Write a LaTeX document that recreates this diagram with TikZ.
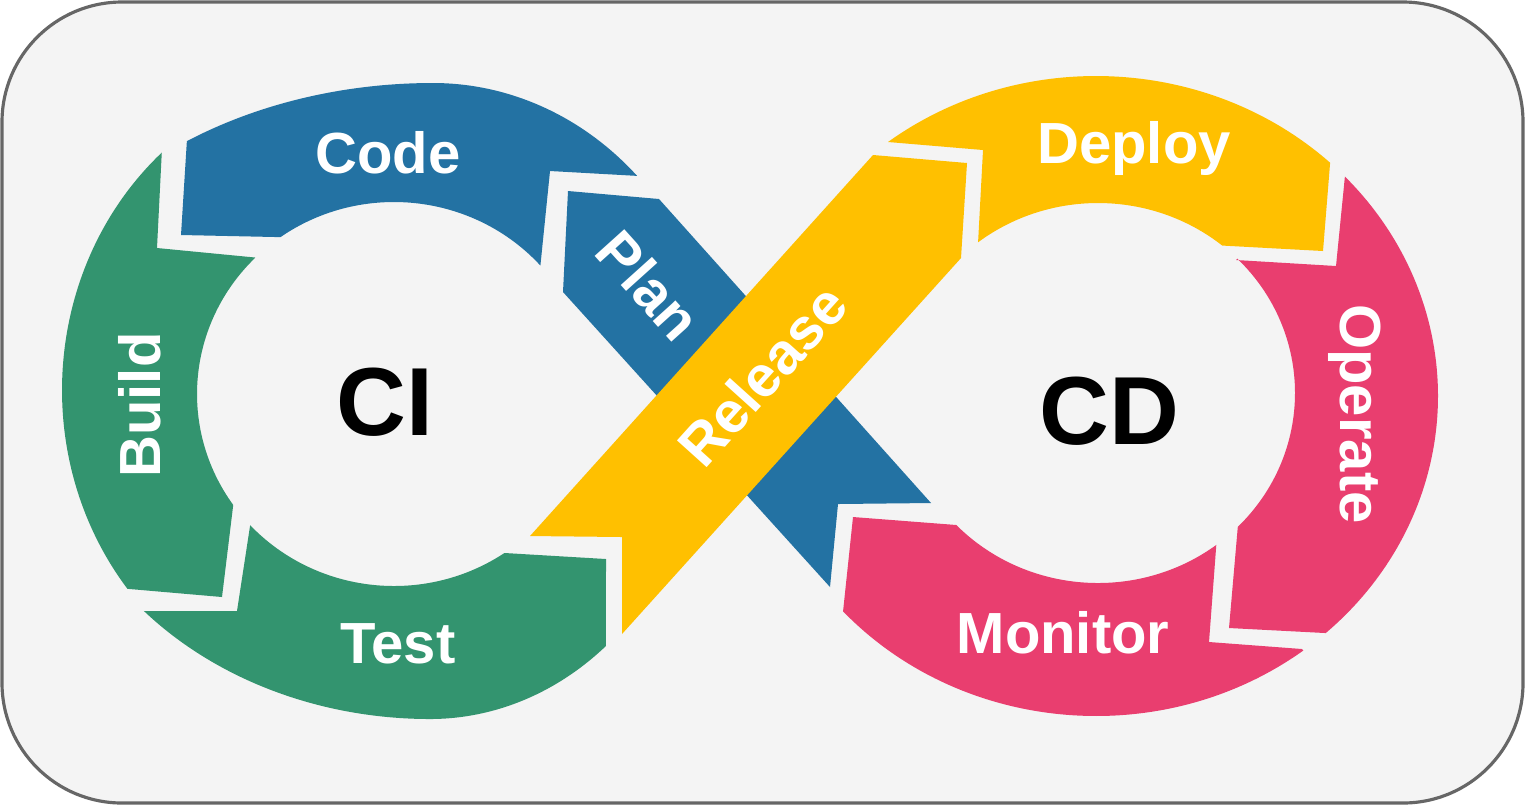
\documentclass[tikz,border=0pt]{standalone}
\usepackage{fontspec}
\setmainfont{Liberation Sans}
\usetikzlibrary{calc}
\definecolor{bgfill}{HTML}{F4F4F4}
\definecolor{frameline}{HTML}{666666}
\definecolor{ciblue}{HTML}{2372A3}
\definecolor{cigreen}{HTML}{33946F}
\definecolor{cdyellow}{HTML}{FFC000}
\definecolor{cdpink}{HTML}{E93E6F}

\begin{document}
\begin{tikzpicture}[x=0.01cm, y=-0.01cm,
  lbl/.style={text=white, inner sep=0pt, font=\bfseries\fontsize{16.5}{20}\selectfont},
  big/.style={text=black, inner sep=0pt, font=\bfseries\fontsize{27.5}{33}\selectfont}]
\useasboundingbox (0,0) rectangle (1525,805);
\draw[fill=bgfill, draw=frameline, line width=0.9pt, rounded corners=1.2cm] (2,2) rectangle (1523,803);
\coordinate (ciin) at (394,394);
\coordinate (cdin) at (1098,393);
\coordinate (cdout) at (1096,396);
% CI loop
\fill[cigreen] (157,248) -- ($(ciin)+(-134.7:197 and 192)$) arc[start angle=-134.7, end angle=-215.3, x radius=197, y radius=192] -- (222,597) -- ($(360,390)+(141.3:298 and 318)$) arc[start angle=141.3, end angle=228.3, x radius=298, y radius=318] -- cycle;
\fill[ciblue] (181,235) -- ($(ciin)+(-125.2:197 and 192)$) arc[start angle=-125.2, end angle=-42, x radius=197, y radius=192] -- (550,171) -- ($(433,401)+(-45.07:289 and 318)$) arc[start angle=-45.07, end angle=-90, x radius=289, y radius=318] arc[start angle=-90, end angle=-125.2, x radius=427, y radius=318] -- cycle;
\fill[cigreen] (144,611) -- (237,611) -- ($(ciin)+(136.9:197 and 192)$) arc[start angle=136.9, end angle=55.9, x radius=197, y radius=192] -- (606,559) -- ($(430,401)+(50.4:276 and 318)$) arc[start angle=50.4, end angle=90, x radius=276, y radius=318] arc[start angle=90, end angle=138.7, x radius=381, y radius=318] -- cycle;
\fill[ciblue] (568,191) -- (659,199) -- (931,503) -- (838,504) -- (830,587) -- (563,292) -- cycle;
% release crosses over plan
\fill[cdyellow] (530,536) -- (622,537) -- (622,634) -- (961,258) -- (967,163) -- (873,155) -- cycle;
% CD loop
\fill[cdyellow] (888,142) -- (983,150) -- ($(cdin)+(-127.5:197 and 190)$) arc[start angle=-127.5, end angle=-50.9, x radius=197, y radius=190] -- (1323,251) -- ($(cdout)+(-46.8:342 and 320)$) arc[start angle=-46.8, end angle=-127.45, x radius=342, y radius=320] -- cycle;
\fill[cdpink] (1236,260) -- (1336,266) -- ($(cdout)+(-43.3:342 and 320)$) arc[start angle=-43.3, end angle=47.8, x radius=342, y radius=320] -- (1229,628) -- ($(cdin)+(44.8:197 and 190)$) arc[start angle=44.8, end angle=-45, x radius=197, y radius=190] -- cycle;
\fill[cdpink] (1302,649) -- (1209,642) -- ($(cdin)+(53.1:197 and 190)$) arc[start angle=53.1, end angle=136, x radius=197, y radius=190] -- (853,517) -- ($(cdout)+(137.7:342 and 320)$) arc[start angle=137.7, end angle=52.7, x radius=342, y radius=320] -- cycle;
% labels
\node[lbl, anchor=base] (code) at (388,173) {Code};
\node[lbl, rotate=-48] (plan) at (649,285) {Plan};
\node[lbl, rotate=48] (release) at (762,375) {Release};
\node[lbl, rotate=90, anchor=base] (build) at (160,405) {Build};
\node[lbl, anchor=base] (test) at (398,663) {Test};
\node[lbl, anchor=base] (deploy) at (1134,163) {Deploy};
\node[lbl, rotate=-90, anchor=base] (operate) at (1340,414) {Operate};
\node[lbl, anchor=base] (monitor) at (1063,653) {Monitor};
\node[big, anchor=base] (ci) at (385,435) {CI};
\node[big, anchor=base] (cd) at (1109,444) {CD};
\end{tikzpicture}
\end{document}
